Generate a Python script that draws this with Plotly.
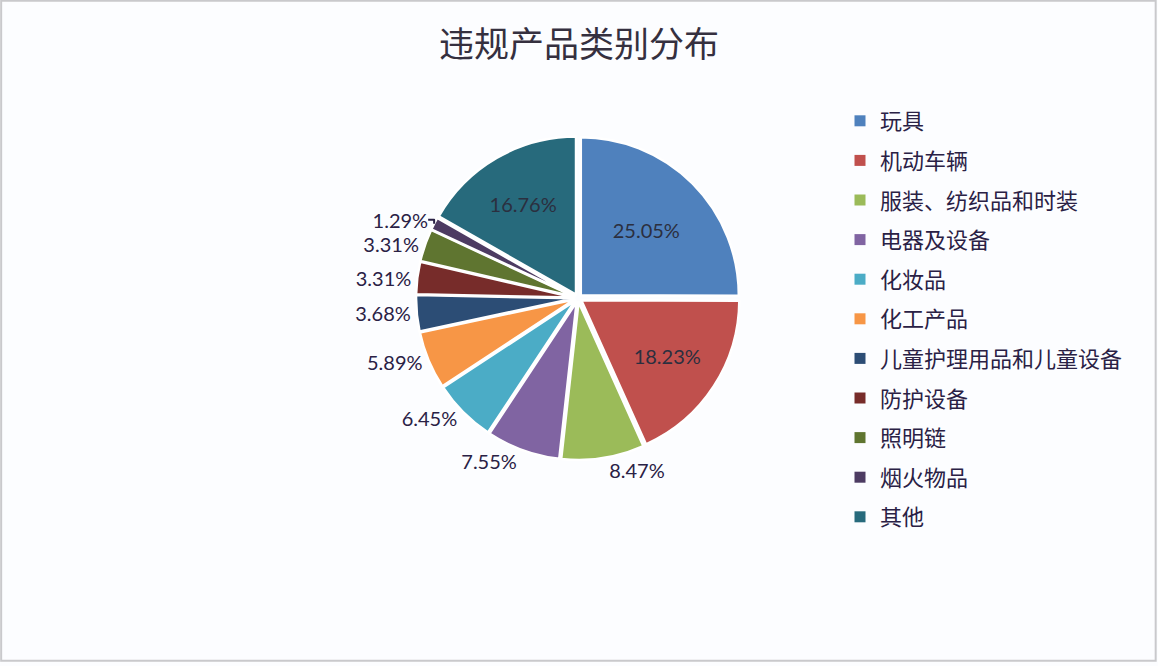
import plotly.graph_objects as go

categories = ["玩具", "机动车辆", "服装、纺织品和时装", "电器及设备", "化妆品", "化工产品",
              "儿童护理用品和儿童设备", "防护设备", "照明链", "烟火物品", "其他"]
values = [25.05, 18.23, 8.47, 7.55, 6.45, 5.89, 3.68, 3.31, 3.31, 1.29, 16.76]
colors = ["#4F81BD", "#C0504D", "#9BBB59", "#8064A2", "#4BACC6", "#F79646",
          "#2C4D75", "#772C2A", "#5F7530", "#4D3B62", "#276A7C"]
positions = ["inside", "inside", "outside", "outside", "outside", "outside",
             "outside", "outside", "outside", "outside", "inside"]

W, H = 1158, 666
cx, cy, r = 578, 298, 158
pull = 0.025
half = r * (1 + pull)

fig = go.Figure()
fig.add_trace(go.Pie(
    labels=categories,
    values=values,
    text=[f"{v:.2f}%" for v in values],
    textinfo="text",
    textposition=positions,
    insidetextorientation="horizontal",
    sort=False,
    direction="clockwise",
    rotation=0,
    pull=[pull] * len(values),
    marker=dict(colors=colors, line=dict(color="white", width=2.5)),
    insidetextfont=dict(size=20, color="#2b2f3f", family="Lato, sans-serif"),
    outsidetextfont=dict(size=20, color="#2a2145", family="Lato, sans-serif"),
    domain=dict(x=[(cx - half) / W, (cx + half) / W], y=[1 - (cy + half) / H, 1 - (cy - half) / H]),
    hoverinfo="label+percent",
    showlegend=False,
))

# legend entries (same categories / colours as the slices)
for i, (name, col) in enumerate(zip(categories, colors)):
    fig.add_trace(go.Scatter(
        x=[None], y=[None], mode="markers", name=name,
        marker=dict(symbol="square", size=11, color=col),
        legendgroup=f"g{i}", showlegend=True, hoverinfo="skip",
    ))

fig.update_layout(
    width=W, height=H,
    margin=dict(l=0, r=0, t=0, b=0),
    paper_bgcolor="#fcfdff",
    plot_bgcolor="rgba(0,0,0,0)",
    xaxis=dict(visible=False),
    yaxis=dict(visible=False),
    title=dict(text="违规产品类别分布", x=0.5, xanchor="center", y=1 - 45 / H, yanchor="middle",
               font=dict(size=35, color="#35303f", family="Noto Sans CJK SC")),
    legend=dict(x=840 / W, y=1 - 100 / H, xanchor="left", yanchor="top",
                font=dict(size=22, color="#2a2145", family="Noto Sans CJK SC"),
                bgcolor="rgba(0,0,0,0)", itemclick=False, tracegroupgap=8),
    showlegend=True,
    shapes=[dict(type="rect", xref="paper", yref="paper", x0=0.001, y0=0.008, x1=0.998, y1=0.999,
                 line=dict(color="#c9c9cc", width=2), fillcolor="rgba(0,0,0,0)")],
)

fig.write_html("out.html")
